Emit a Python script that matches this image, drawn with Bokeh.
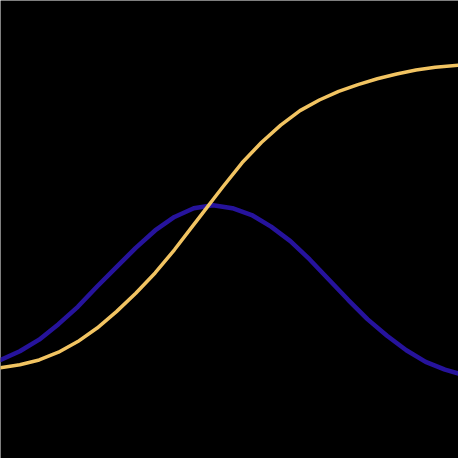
from bokeh.plotting import figure
from bokeh.models import Range1d
from bokeh.embed import file_html
from bokeh.resources import INLINE

# Values (chart units: 0..474 across, 0..474 up)
density_x = [0, 20, 40, 60, 80, 100, 120, 140, 160, 180, 200, 220, 240,
             260, 280, 300, 320, 340, 360, 380, 400, 420, 440, 460, 474]
density_y = [102, 111, 123, 139, 157, 178, 198, 218, 236, 250, 259, 262, 259,
             252, 240, 225, 206, 185, 164, 144, 127, 112, 100, 92, 88]

cumulative_x = [0, 20, 40, 60, 80, 100, 120, 140, 160, 180, 200, 210, 220,
                230, 250, 270, 290, 310, 330, 350, 370, 390, 410, 430, 450, 474]
cumulative_y = [94, 97, 102, 110, 121, 135, 152, 171, 192, 216, 242, 255, 268,
                281, 306, 327, 345, 360, 371, 380, 387, 393, 398, 402, 405, 407]

p = figure(width=458, height=458, output_backend="svg", toolbar_location=None,
           x_range=Range1d(0, 474), y_range=Range1d(0, 474),
           min_border=0, min_border_left=0, min_border_right=0,
           min_border_top=0, min_border_bottom=0)
p.axis.visible = False
p.xgrid.visible = False
p.ygrid.visible = False
p.outline_line_color = None
p.background_fill_color = "black"
p.border_fill_color = "black"

p.line(density_x, density_y, line_color="#26139c", line_width=4.5,
       line_join="round", line_cap="round")
p.line(cumulative_x, cumulative_y, line_color="#f2c462", line_width=3.5,
       line_join="round", line_cap="round")

open("out.html", "w").write(file_html(p, INLINE))
